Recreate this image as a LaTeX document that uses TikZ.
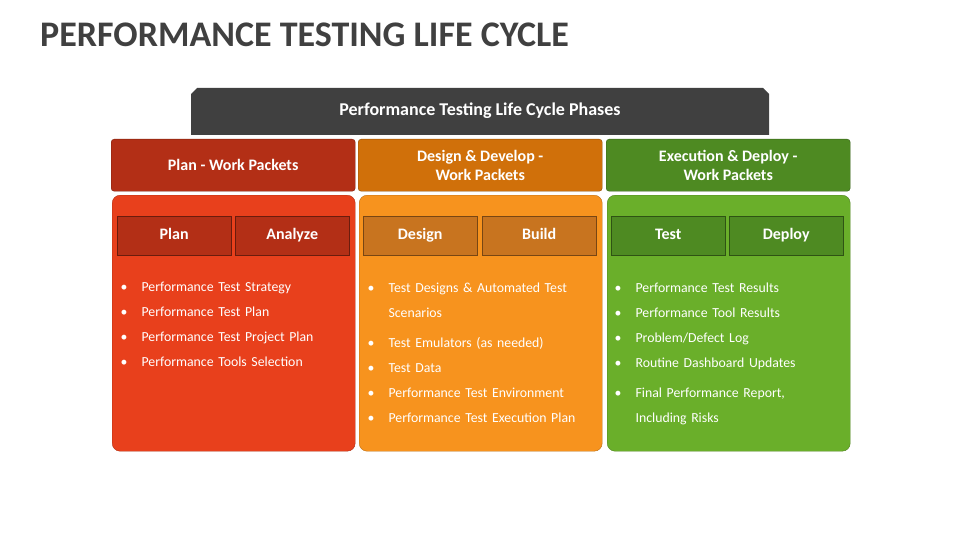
\documentclass[tikz,border=0pt]{standalone}
\usepackage{fontspec}
\setmainfont{Carlito}
\definecolor{dk}{HTML}{404040}
\definecolor{rH}{HTML}{B32F16}\definecolor{rB}{HTML}{E8401C}\definecolor{rS}{HTML}{B32F16}
\definecolor{oH}{HTML}{D0700A}\definecolor{oB}{HTML}{F7931E}\definecolor{oS}{HTML}{C8741F}
\definecolor{gH}{HTML}{4E8A22}\definecolor{gB}{HTML}{6AAF2A}\definecolor{gS}{HTML}{4E8A22}
\tikzset{
 hdr/.style={draw=#1!70!black,fill=#1,rounded corners=3pt,minimum width=244pt,minimum height=52pt,text=white,font=\bfseries\fontsize{16}{19}\selectfont,align=center,anchor=north west},
 body/.style={draw=#1!75!black,fill=#1,rounded corners=8pt,minimum width=243pt,minimum height=256pt,anchor=north west},
 sub/.style={draw=#1!60!black,fill=#1,minimum width=114pt,minimum height=39pt,text height=11pt,text depth=3pt,text=white,font=\bfseries\fontsize{16}{19}\selectfont,anchor=north west},
 lst/.style={text=white,font=\fontsize{13.8}{25}\selectfont,anchor=north west,align=left,text width=225pt},
}
\newcommand{\bl}{\makebox[21pt][l]{\textbullet}}
\begin{document}
\begin{tikzpicture}[x=1pt,y=-1pt]
\useasboundingbox (0,0) rectangle (960,540);
\node[anchor=west,text=dk,font=\bfseries\fontsize{36}{40}\selectfont,inner sep=0] (title) at (40,35) {PERFORMANCE TESTING LIFE CYCLE};
\fill[dk] (191,135) -- (191,94) -- (197,88) -- (763,88) -- (769,94) -- (769,135) -- cycle;
\node[text=white,font=\bfseries\fontsize{18}{21}\selectfont] (ph) at (480,111) {Performance Testing Life Cycle Phases};
\node[hdr=rH] (h1) at (111,139) {Plan - Work Packets};
\node[hdr=oH] (h2) at (358,139) {Design \& Develop -\\Work Packets};
\node[hdr=gH] (h3) at (606,139) {Execution \& Deploy -\\Work Packets};
\node[body=rB] (b1) at (112,195) {};
\node[body=oB] (b2) at (359,195) {};
\node[body=gB] (b3) at (607,195) {};
\node[sub=rS] (s1) at (117,216) {Plan};
\node[sub=rS] (s2) at (235,216) {Analyze};
\node[sub=oS] (s3) at (363,216) {Design};
\node[sub=oS] (s4) at (482,216) {Build};
\node[sub=gS] (s5) at (611,216) {Test};
\node[sub=gS] (s6) at (729,216) {Deploy};
\node[lst] (l1) at (117,279) {\bl Performance Test Strategy\\\bl Performance Test Plan\\\bl Performance Test Project Plan\\\bl Performance Tools Selection};
\node[lst] (l2) at (364,279) {\bl Test Designs \& Automated Test\\\hspace*{21pt}Scenarios\\[5pt]\bl Test Emulators (as needed)\\\bl Test Data\\\bl Performance Test Environment\\\bl Performance Test Execution Plan};
\node[lst] (l3) at (611,279) {\bl Performance Test Results\\\bl Performance Tool Results\\\bl Problem/Defect Log\\\bl Routine Dashboard Updates\\[5pt]\bl Final Performance Report,\\\hspace*{21pt}Including Risks};
\end{tikzpicture}
\end{document}
